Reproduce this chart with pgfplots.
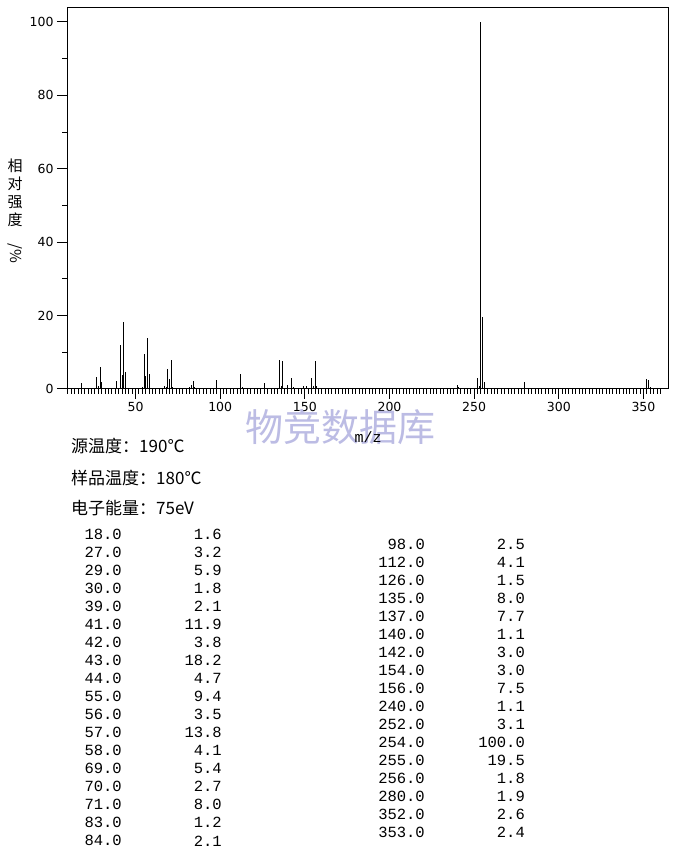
\documentclass[border=0pt]{standalone}
\usepackage{pgfplots}
\pgfplotsset{compat=1.18}
\usepackage{fontspec}
\usepackage{graphicx}
\newfontfamily\cjk{Noto Sans CJK SC}
\newfontfamily\mono{Liberation Mono}
\newfontfamily\tickfont{DejaVu Sans}
\definecolor{wm}{RGB}{188,188,228}
\begin{document}
\begin{tikzpicture}[x=1pt,y=1pt]
\fill[white] (0,0) rectangle (680,850);
\path[use as bounding box] (0,0) rectangle (680,850);
\begin{axis}[
  at={(67pt,461pt)}, anchor=south west,
  width=601pt, height=381pt, scale only axis,
  xmin=9.5, xmax=364.5, ymin=0, ymax=103.8,
  axis line style={black, line width=1pt},
  xtick={50,100,...,350}, minor xtick={10,12,...,360},
  ytick={0,20,...,100}, minor ytick={10,30,...,90},
  xtick pos=bottom, ytick pos=left,
  tick align=outside,
  major tick length=10pt, minor tick length=5pt,
  every tick/.style={black, line width=1pt},
  ticklabel style={font=\tickfont\fontsize{12.5}{12.5}\selectfont},
  /pgf/number format/assume math mode=true,
  clip=false,
]
\addplot[ycomb, black, line width=1pt, mark=none] coordinates {
(15,0.3) (17,0.2) (18,1.6) (26,0.4) (27,3.2) (28,0.8) (29,5.9) (30,1.8) (31,0.3)
(38,0.3) (39,2.1) (40,0.4) (41,11.9) (42,3.8) (43,18.2) (44,4.7) (45,0.3)
(50,0.3) (51,0.3) (53,0.4) (54,0.5) (55,9.4) (56,3.5) (57,13.8) (58,4.1) (59,0.4)
(64,0.3) (67,0.8) (68,0.6) (69,5.4) (70,2.7) (71,8.0) (72,0.5)
(77,0.2) (79,0.2) (81,0.3) (82,0.5) (83,1.2) (84,2.1) (85,0.5) (86,0.2)
(91,0.2) (93,0.2) (95,0.3) (96,0.3) (98,2.5) (99,0.3) (100,0.2)
(105,0.2) (106,0.3) (108,0.4) (109,0.4) (110,0.4) (112,4.1) (113,0.5)
(121,0.2) (123,0.3) (126,1.5) (127,0.3)
(135,8.0) (136,0.7) (137,7.7) (138,0.4) (140,1.1) (142,3.0) (143,0.5)
(149,0.8) (151,0.9) (152,0.4) (154,3.0) (155,0.8) (156,7.5) (157,0.9)
(168,0.4) (169,0.3) (180,0.2) (181,0.3) (182,0.4) (183,0.3)
(192,0.2) (194,0.2) (196,0.2) (198,0.2) (209,0.2) (210,0.4) (211,0.3)
(224,0.2) (225,0.3) (237,0.3) (240,1.1) (241,0.5) (242,0.3) (250,0.3)
(252,3.1) (253,0.8) (254,100) (255,19.5) (256,1.8) (257,0.4)
(268,0.2) (278,0.2) (280,1.9) (281,0.3) (296,0.2) (297,0.2)
(310,0.4) (311,0.2) (314,0.3) (315,0.3) (322,0.3) (324,0.3)
(350,0.3) (351,0.3) (352,2.6) (353,2.4) (354,0.5)
};
\end{axis}
% y label
\node[font=\cjk\fontsize{15}{18}\selectfont, align=center, inner sep=0pt] at (15,639)
  {相\\对\\强\\度\\\rotatebox{-90}{/\%}};
% watermark
\node[font=\cjk\fontsize{38}{38}\selectfont, text=wm, inner sep=0pt] at (340,423) {物竞数据库};
% x label
\node[font=\mono\fontsize{15}{15}\selectfont, inner sep=0pt] at (368,413) {m/z};
% info lines
\begin{scope}[every node/.style={anchor=west, inner sep=0pt, font=\cjk\fontsize{17}{17}\selectfont}]
\node at (71,404) {源温度：190℃};
\node at (71,372) {样品温度：180℃};
\node at (71,342) {电子能量：75eV};
\end{scope}
% table
\begin{scope}[every node/.style={anchor=east, inner sep=0pt, font=\mono\fontsize{15.5}{15.5}\selectfont}]
\foreach \m/\v [count=\i] in {18.0/1.6, 27.0/3.2, 29.0/5.9, 30.0/1.8, 39.0/2.1, 41.0/11.9, 42.0/3.8, 43.0/18.2, 44.0/4.7, 55.0/9.4, 56.0/3.5, 57.0/13.8, 58.0/4.1, 69.0/5.4, 70.0/2.7, 71.0/8.0, 83.0/1.2, 84.0/2.1} {
  \node at (122,{850-534-18.05*(\i-1)}) {\m};
  \node at (222,{850-534-18.05*(\i-1)}) {\v};
}
\foreach \m/\v [count=\i] in {98.0/2.5, 112.0/4.1, 126.0/1.5, 135.0/8.0, 137.0/7.7, 140.0/1.1, 142.0/3.0, 154.0/3.0, 156.0/7.5, 240.0/1.1, 252.0/3.1, 254.0/100.0, 255.0/19.5, 256.0/1.8, 280.0/1.9, 352.0/2.6, 353.0/2.4} {
  \node at (425,{850-544-18.05*(\i-1)}) {\m};
  \node at (525,{850-544-18.05*(\i-1)}) {\v};
}
\end{scope}
\end{tikzpicture}
\end{document}
